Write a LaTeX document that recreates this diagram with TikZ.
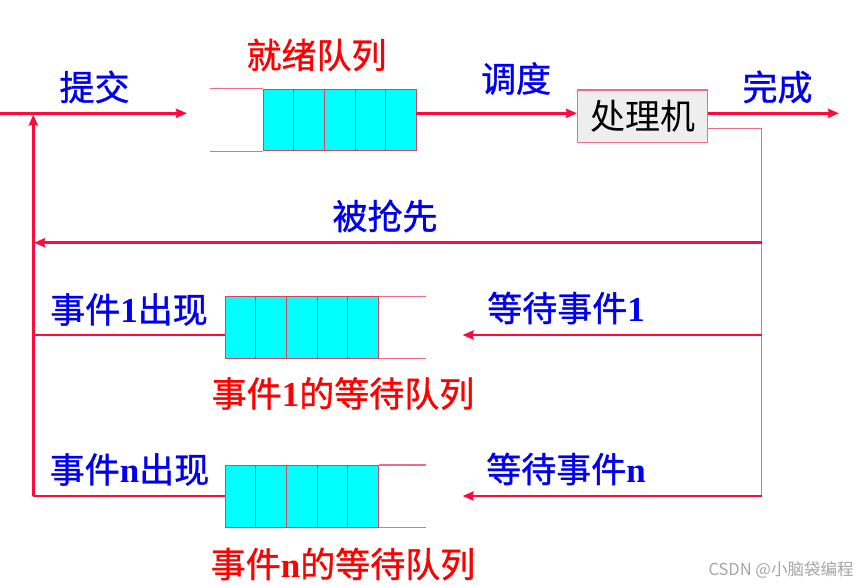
\documentclass[tikz,border=0pt]{standalone}
\usepackage{fontspec}
\setmainfont{Liberation Serif}
\newfontfamily\cjk[FakeBold=1]{Noto Sans CJK SC}
\newfontfamily\cjkwm{Noto Sans CJK SC}
\usetikzlibrary{arrows.meta,calc}
\definecolor{lred}{HTML}{FF0A3C}
\definecolor{lpink}{HTML}{F26A85}
\definecolor{tblue}{HTML}{0000F0}
\definecolor{tred}{HTML}{FF0000}
\definecolor{qcyan}{HTML}{00FFFF}
\definecolor{boxfill}{HTML}{EEEEEE}
\definecolor{cellline}{HTML}{E0405A}
\tikzset{
  flow/.style={draw=lred, line width=2.6pt},
  arr/.style={flow, -{Stealth[length=11pt,width=9pt,inset=1pt]}},
  thinl/.style={draw=lpink, line width=1.3pt},
  qbox/.style={draw=cellline, line width=0.9pt, fill=qcyan, minimum width=153pt, minimum height=61.5pt, inner sep=0pt},
  divl/.style={draw=cellline, line width=0.9pt},
  blbl/.style={text=tblue, font=\cjk\fontsize{35}{35}\selectfont, inner sep=0pt},
  rlbl/.style={text=tred, font=\cjk\fontsize{35}{35}\selectfont, inner sep=0pt},
  cpubox/.style={draw=lpink, line width=1.3pt, fill=boxfill, minimum width=130pt, minimum height=52.5pt, inner sep=0pt, font=\cjkwm\fontsize{35}{35}\selectfont, text=black},
  wm/.style={text=black!35, font=\cjkwm\fontsize{16.5}{16.5}\selectfont, inner sep=0pt}
}
\newcommand{\nb}[1]{{\fontspec{Liberation Serif}\bfseries #1}}
\begin{document}
\begin{tikzpicture}[x=1pt,y=-1pt]
\useasboundingbox (0,0) rectangle (858,585);
\fill[white] (0,0) rectangle (858,585);

% queues
\node[qbox] (rq) at (339.7,120) {};
\node[qbox] (q1) at (301.7,327.5) {};
\node[qbox] (qn) at (301.7,496.2) {};
\foreach \q in {rq,q1,qn}{
  \foreach \i in {1,...,4}{
    \draw[divl] ($(\q.north west)!\i/5!(\q.north east)$) -- ($(\q.south west)!\i/5!(\q.south east)$);
  }
}
\draw[thinl] (rq.north west) -- ++(-53,0);
\draw[thinl] (rq.south west) -- ++(-53,0);
\draw[thinl] (q1.north east) -- ++(47,0);
\draw[thinl] (q1.south east) -- ++(47,0);
\draw[thinl] (qn.north east) -- ++(47,0);
\draw[thinl] (qn.south east) -- ++(47,0);

% processor
\node[cpubox] (cpu) at (642.7,116.3) {处理机};

% coordinates
\coordinate (in) at (0,113.3);
\coordinate (intip) at (187,113.3);
\coordinate (rqout) at (416.2,113.3);
\coordinate (done) at (839,113.3);
\coordinate (rt) at (761.7,128.3);
\coordinate (rb) at (761.7,496);
\coordinate (pre) at (761.7,242.7);
\coordinate (preend) at (34,242.7);
\coordinate (lb) at (33.3,496);
\coordinate (ltop) at (33.3,114.5);
\coordinate (w1) at (761.7,335);
\coordinate (w1tip) at (462.5,335);
\coordinate (wn) at (761.7,496);
\coordinate (wntip) at (462.5,496);
\coordinate (e1) at (33.3,335);

% connectors
\draw[arr] (in) -- (intip);
\draw[arr] (rqout) -- (cpu.west |- rqout);
\draw[arr] (cpu.east |- rqout) -- (done);
\draw[thinl] (cpu.east |- rt) -- (rt) -- (rb);
\draw[arr] (pre) -- (preend);
\draw[arr] (w1) -- (w1tip);
\draw[arr] (wn) -- (wntip);
\draw[flow] (e1) -- (q1.west |- e1);
\draw[flow] (qn.west |- lb) -- (lb);
\draw[arr] (lb) -- (ltop);

% labels
\node[blbl] (tj) at (94.5,87) {提交};
\node[rlbl] (jx) at (316.5,55) {就绪队列};
\node[blbl] (dd) at (516,78.5) {调度};
\node[blbl] (wc) at (777.5,87) {完成};
\node[blbl] (bqx) at (385,216) {被抢先};
\node[blbl] (e1c) at (129,309.5) {事件\nb{1}出现};
\node[blbl] (w1l) at (566,308) {等待事件\nb{1}};
\node[rlbl] (q1l) at (343,393.5) {事件\nb{1}的等待队列};
\node[blbl] (enc) at (129.5,469.5) {事件\nb{n}出现};
\node[blbl] (wnl) at (566,469) {等待事件\nb{n}};
\node[rlbl] (qnl) at (343,564) {事件\nb{n}的等待队列};
\node[wm] (mark) at (781,570) {CSDN @小脑袋编程};
\end{tikzpicture}
\end{document}
